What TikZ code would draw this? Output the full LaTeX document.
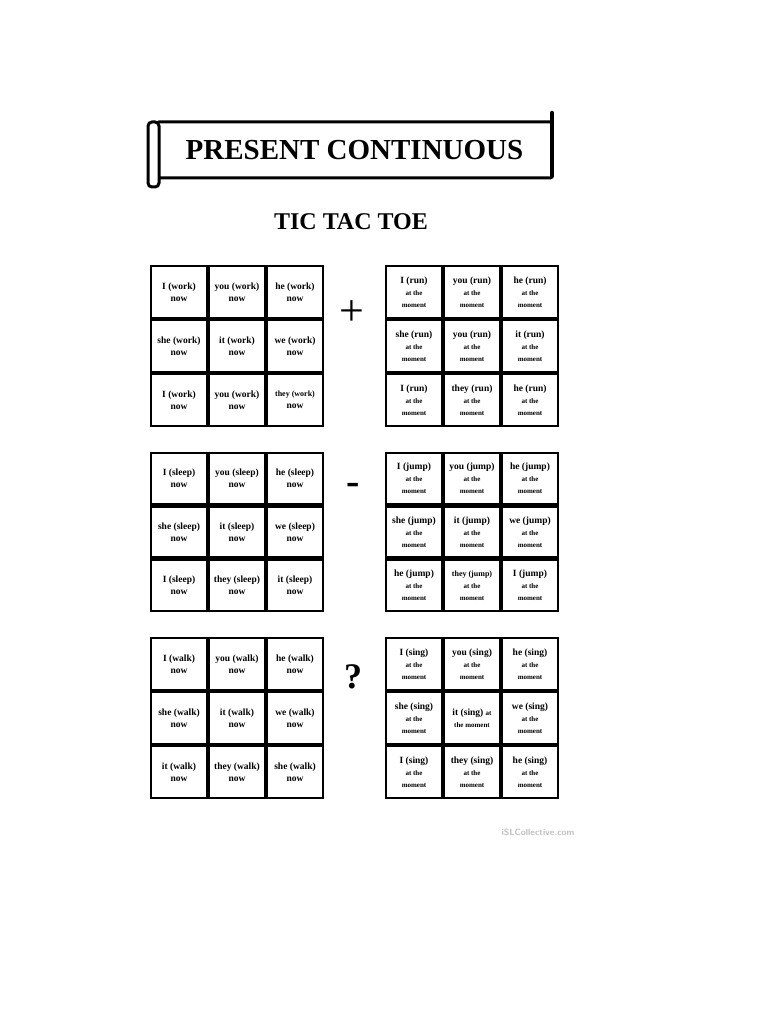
\documentclass[tikz,border=0pt]{standalone}
\usepackage{fontspec}
\setmainfont{Liberation Serif}
\newcommand{\smf}{\bfseries\fontsize{7}{9}\selectfont}
\begin{document}
\begin{tikzpicture}[x=1pt,y=-1pt,
  cell/.style={fill=white,minimum width=53.5pt,minimum height=47pt,inner sep=1pt,align=center,font=\bfseries\fontsize{9.5}{12}\selectfont}]
\useasboundingbox[fill=white] (0,0) rectangle (768,1024);
\newcommand{\mygrid}[5]{% #1 name, #2 x, #3 y, #4 height, #5 list
  \fill (#2,#3) rectangle ++(174,#4);
  \foreach \t [count=\i from 0] in {#5} {
    \pgfmathtruncatemacro{\c}{mod(\i,3)}
    \pgfmathtruncatemacro{\r}{div(\i,3)}
    \node[cell,minimum height=#4/3-4.5] (#1\i) at ({#2+29+\c*58},{#3+#4/6+\r*#4/3}) {\t};
  }}
% title scroll
\draw[line width=3pt,fill=white,rounded corners=2pt] (157,122) rectangle (552,178) node[midway] (title) {\bfseries\fontsize{29}{29}\selectfont PRESENT CONTINUOUS};
\draw[line width=3pt,fill=white,rounded corners=4pt] (148,122) rectangle (159,187);
\draw[line width=4.5pt,line cap=round] (552,113) -- (552,176);
\node (tic) at (351,222) {\bfseries\fontsize{24}{24}\selectfont TIC TAC TOE};
\mygrid{a}{150}{265}{162}{{I (work)\\now},{you (work)\\now},{he (work)\\now},{she (work)\\now},{it (work)\\now},{we (work)\\now},{I (work)\\now},{you (work)\\now},{{\fontsize{8}{8}\selectfont they (work)}\\now}}
\mygrid{b}{385}{265}{162}{{I (run)\\\smf at the\\\smf moment},{you (run)\\\smf at the\\\smf moment},{he (run)\\\smf at the\\\smf moment},{she (run)\\\smf at the\\\smf moment},{you (run)\\\smf at the\\\smf moment},{it (run)\\\smf at the\\\smf moment},{I (run)\\\smf at the\\\smf moment},{they (run)\\\smf at the\\\smf moment},{he (run)\\\smf at the\\\smf moment}}
\mygrid{c}{150}{452}{160}{{I (sleep)\\now},{you (sleep)\\now},{he (sleep)\\now},{she (sleep)\\now},{it (sleep)\\now},{we (sleep)\\now},{I (sleep)\\now},{they (sleep)\\now},{it (sleep)\\now}}
\mygrid{d}{385}{452}{160}{{I (jump)\\\smf at the\\\smf moment},{you (jump)\\\smf at the\\\smf moment},{he (jump)\\\smf at the\\\smf moment},{she (jump)\\\smf at the\\\smf moment},{it (jump)\\\smf at the\\\smf moment},{we (jump)\\\smf at the\\\smf moment},{he (jump)\\\smf at the\\\smf moment},{{\fontsize{8}{8}\selectfont they (jump)}\\\smf at the\\\smf moment},{I (jump)\\\smf at the\\\smf moment}}
\mygrid{e}{150}{637}{162}{{I (walk)\\now},{you (walk)\\now},{he (walk)\\now},{she (walk)\\now},{it (walk)\\now},{we (walk)\\now},{it (walk)\\now},{they (walk)\\now},{she (walk)\\now}}
\mygrid{f}{385}{637}{162}{{I (sing)\\\smf at the\\\smf moment},{you (sing)\\\smf at the\\\smf moment},{he (sing)\\\smf at the\\\smf moment},{she (sing)\\\smf at the\\\smf moment},{it (sing) {\smf at}\\\smf the moment},{we (sing)\\\smf at the\\\smf moment},{I (sing)\\\smf at the\\\smf moment},{they (sing)\\\smf at the\\\smf moment},{he (sing)\\\smf at the\\\smf moment}}
\node (plus) at (352,313) {\fontsize{44}{44}\selectfont +};
\node (minus) at (353,489) {\bfseries\fontsize{40}{40}\selectfont -};
\node (q) at (353,677) {\bfseries\fontsize{36}{36}\selectfont ?};
\node[text=gray!50,font=\sffamily\bfseries\fontsize{9}{9}\selectfont] (wm) at (538,832) {iSLCollective.com};
\end{tikzpicture}
\end{document}
